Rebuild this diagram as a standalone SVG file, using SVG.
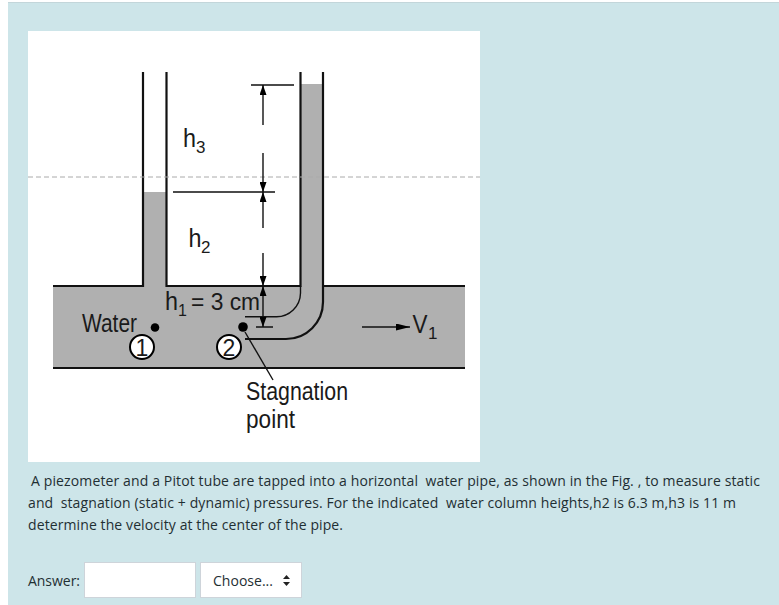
<svg xmlns="http://www.w3.org/2000/svg" width="779" height="605" viewBox="0 0 779 605">
<defs>
<marker id="ah" markerWidth="10" markerHeight="7" refX="10" refY="3.5" orient="auto-start-reverse" markerUnits="userSpaceOnUse"><path d="M0 0L10 3.5L0 7Z" fill="#000"/></marker>
<marker id="ahw" markerWidth="14" markerHeight="7" refX="14" refY="3.5" orient="auto" markerUnits="userSpaceOnUse"><path d="M0 0L14 3.5L0 7Z" fill="#000"/></marker>
</defs>
<style>
.l{stroke:#111;fill:none;stroke-width:2.2}
.t{stroke:#111;fill:none;stroke-width:1.4}
.f{font-family:"Liberation Sans",Arial,sans-serif;fill:#1a1a1a}
.b{font-family:"Open Sans",sans-serif;font-size:14px;fill:#1f2f33;white-space:pre}
.box{fill:#fff;stroke:#ced4da;stroke-width:1}
</style>
<rect width="779" height="605" fill="#fff"/>
<rect x="8" y="2" width="771" height="603" fill="#cde5e9"/>
<rect x="8" y="2" width="771" height="1" fill="#c3d6da"/>
<rect x="28" y="31" width="452" height="431" fill="#fff"/>

<g id="pipe">
<path d="M144 192H166V286H300V84H323V286H465V368H53V286H144Z" fill="#b0b0b0"/>
<path class="l" d="M143 72V286H53M53 368H465M166.500 72V286H300.500V72M323 72V302A37 37 0 0 1 286 339H245M323 286H465"/>
<path class="t" d="M300.500 286V293A24 24 0 0 1 276 316.700H245"/>
</g>
<line x1="28" y1="177" x2="480" y2="177" stroke="#aaa" stroke-width="1" stroke-dasharray="5 3"/>

<g id="connectors">
<path class="t" d="M251 85H294M173 192H275M256 327H273"/>
<line class="t" x1="263" y1="125" x2="263" y2="85" marker-end="url(#ah)"/>
<line class="t" x1="263" y1="153" x2="263" y2="192" marker-end="url(#ah)"/>
<line class="t" x1="263" y1="228" x2="263" y2="192" marker-end="url(#ah)"/>
<line class="t" x1="263" y1="253" x2="263" y2="286" marker-end="url(#ah)"/>
<line class="t" x1="263" y1="306" x2="263" y2="286" marker-end="url(#ah)"/>
<line class="t" x1="263" y1="306" x2="263" y2="327" marker-end="url(#ah)"/>
<line class="t" x1="362" y1="327" x2="410" y2="327" stroke-width="1.6" marker-end="url(#ahw)"/>
<line class="t" x1="245" y1="332" x2="273" y2="380"/>
</g>

<g id="point1">
<circle cx="155" cy="327.500" r="4.300" fill="#000"/>
<circle cx="142" cy="347" r="12" fill="#fff" stroke="#000" stroke-width="2"/>
<text class="f" x="142" y="355.500" font-size="23" text-anchor="middle">1</text>
</g>
<g id="point2">
<circle cx="243" cy="327" r="4.800" fill="#000"/>
<circle cx="229" cy="347" r="12" fill="#fff" stroke="#000" stroke-width="2"/>
<text class="f" x="229" y="355.500" font-size="23" text-anchor="middle">2</text>
</g>

<g id="labels">
<text class="f" x="183" y="147" font-size="25" textLength="13" lengthAdjust="spacingAndGlyphs">h</text>
<text class="f" x="196" y="153" font-size="17">3</text>
<text class="f" x="188.500" y="247" font-size="25" textLength="13" lengthAdjust="spacingAndGlyphs">h</text>
<text class="f" x="201" y="253" font-size="17">2</text>
<text class="f" x="165" y="310" font-size="25" textLength="13" lengthAdjust="spacingAndGlyphs">h</text>
<text class="f" x="178" y="316" font-size="16">1</text>
<text class="f" x="191" y="310" font-size="24" textLength="69" lengthAdjust="spacingAndGlyphs">= 3 cm</text>
<text class="f" x="82" y="332" font-size="25" textLength="55" lengthAdjust="spacingAndGlyphs">Water</text>
<text class="f" x="412.500" y="333" font-size="25" textLength="15" lengthAdjust="spacingAndGlyphs">V</text>
<text class="f" x="428" y="339" font-size="17">1</text>
<text class="f" x="246" y="400" font-size="25" textLength="102" lengthAdjust="spacingAndGlyphs">Stagnation</text>
<text class="f" x="246" y="428" font-size="25" textLength="49" lengthAdjust="spacingAndGlyphs">point</text>
</g>

<g id="question">
<text class="b" x="31" y="486" textLength="729">A piezometer and a Pitot tube are tapped into a horizontal  water pipe, as shown in the Fig. , to measure static</text>
<text class="b" x="28" y="508" textLength="708">and  stagnation (static + dynamic) pressures. For the indicated  water column heights,h2 is 6.3 m,h3 is 11 m</text>
<text class="b" x="28" y="530" textLength="315">determine the velocity at the center of the pipe.</text>
</g>

<g id="answer">
<text class="b" x="28" y="586" textLength="52">Answer:</text>
<rect class="box" x="84.500" y="562.500" width="111" height="35"/>
</g>
<g id="choose">
<rect class="box" x="200.500" y="562.500" width="101" height="35"/>
<text class="b" x="213" y="586" textLength="60">Choose...</text>
<path d="M283 579L286.500 575L290 579ZM283 582L286.500 586L290 582Z" fill="#222"/>
</g>
</svg>
